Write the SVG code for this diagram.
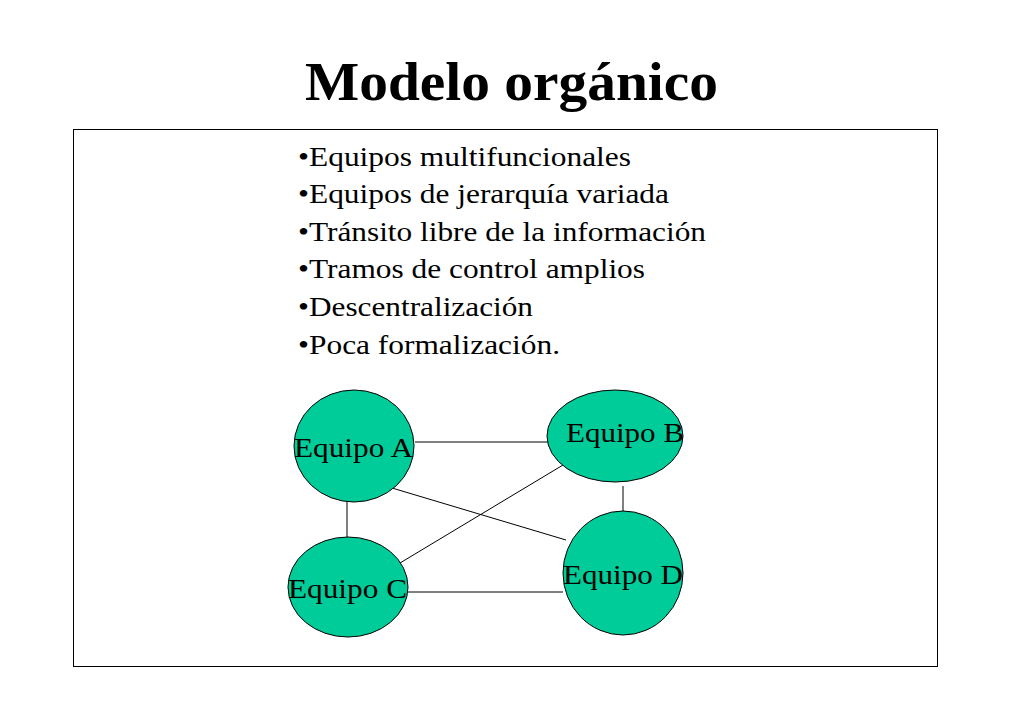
<svg xmlns="http://www.w3.org/2000/svg" width="1023" height="708" viewBox="0 0 1023 708">
<style>
text{font-family:"Liberation Serif",serif;fill:#000}
.b{font-size:28px}
.n{fill:#00cc99;stroke:#000;stroke-width:1}
.l{stroke:#000;stroke-width:1}
</style>
<rect width="1023" height="708" fill="#fff"/>
<text x="305" y="100" font-size="54" font-weight="bold" textLength="413" lengthAdjust="spacingAndGlyphs">Modelo orgánico</text>
<rect x="73.5" y="129.5" width="864" height="537" fill="none" stroke="#000"/>
<g class="b">
<text x="298" y="166" textLength="333" lengthAdjust="spacingAndGlyphs">•Equipos multifuncionales</text>
<text x="298" y="203" textLength="371" lengthAdjust="spacingAndGlyphs">•Equipos de jerarquía variada</text>
<text x="298" y="241" textLength="408" lengthAdjust="spacingAndGlyphs">•Tránsito libre de la información</text>
<text x="298" y="278" textLength="347" lengthAdjust="spacingAndGlyphs">•Tramos de control amplios</text>
<text x="298" y="316" textLength="235" lengthAdjust="spacingAndGlyphs">•Descentralización</text>
<text x="298" y="354" textLength="262" lengthAdjust="spacingAndGlyphs">•Poca formalización.</text>
</g>
<g id="connectors" class="l">
<line x1="415" y1="442" x2="548" y2="442"/>
<line x1="392" y1="488" x2="566" y2="540"/>
<line x1="563" y1="465" x2="400" y2="563"/>
<line x1="347" y1="497" x2="347" y2="539"/>
<line x1="623" y1="486" x2="623" y2="533"/>
<line x1="408" y1="592" x2="563" y2="592"/>
</g>
<g id="A"><ellipse class="n" cx="354" cy="446" rx="60" ry="56"/><text class="b" x="294" y="457" textLength="119" lengthAdjust="spacingAndGlyphs">Equipo A</text></g>
<g id="B"><ellipse class="n" cx="615" cy="436" rx="68" ry="46"/><text class="b" x="566" y="442" textLength="118" lengthAdjust="spacingAndGlyphs">Equipo B</text></g>
<g id="C"><ellipse class="n" cx="348" cy="587" rx="60" ry="50"/><text class="b" x="288" y="598" textLength="119" lengthAdjust="spacingAndGlyphs">Equipo C</text></g>
<g id="D"><ellipse class="n" cx="623" cy="573" rx="60" ry="62"/><text class="b" x="563" y="584" textLength="120" lengthAdjust="spacingAndGlyphs">Equipo D</text></g>
</svg>
